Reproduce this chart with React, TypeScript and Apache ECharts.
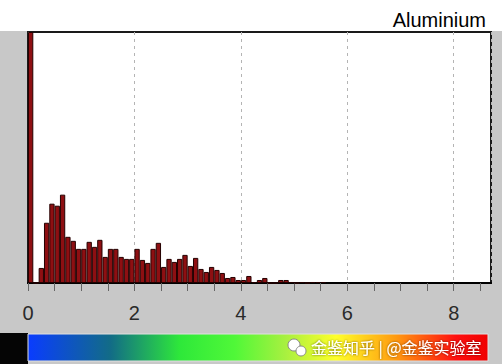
import React, { useEffect, useRef } from 'react';
import * as echarts from 'echarts';

const TITLE = 'Aluminium';
const BIN_WIDTH = 0.1;
// histogram counts per 0.1-wide bin starting at 0
const counts = [
  250, 0, 15, 60, 79, 77, 88, 46, 42, 34,
  34, 41, 36, 43, 26, 34, 34, 26, 24, 24,
  34, 23, 20, 34, 40, 16, 24, 21, 24, 28,
  17, 25, 14, 11, 16, 13, 10, 5, 6, 3,
  3, 7, 1, 3, 5, 0, 0, 3, 3, 1,
  0, 1, 0, 1, 1, 1,
];
const xTickLabels = ['0', '2', '4', '6', '8'];
const X_MAX = 8.7;
const Y_MAX = 250;
const WATERMARK = '金鉴知乎 | @金鉴实验室';

export default function App() {
  const ref = useRef<HTMLDivElement>(null);
  useEffect(() => {
    const chart = echarts.init(ref.current!, undefined, { renderer: 'svg' });
    const data = counts.map((c, i) => [(i + 0.5) * BIN_WIDTH, c]);
    chart.setOption({
      animation: false,
      backgroundColor: '#c8c8c8',
      title: {
        text: TITLE,
        right: 11,
        top: 5,
        textStyle: { fontSize: 20, fontWeight: 'normal', color: '#000', fontFamily: 'Liberation Sans, Arial, sans-serif' },
      },
      grid: {
        left: 28, right: 11, top: 32, bottom: 81,
        show: true, backgroundColor: '#ffffff', borderColor: '#1a1a1a', borderWidth: 2,
      },
      xAxis: [
        {
          type: 'value', min: 0, max: X_MAX, interval: 0.5,
          axisLine: { show: true, lineStyle: { color: '#000', width: 2 } },
          axisTick: { show: true, length: 8, lineStyle: { color: '#666', width: 1 } },
          axisLabel: {
            formatter: (v: number) => (xTickLabels.includes(String(v)) ? String(v) : ''),
            showMaxLabel: false,
            fontSize: 20, color: '#2a2a2a', margin: 20,
            fontFamily: 'Liberation Sans, Arial, sans-serif',
          },
          splitLine: { show: false },
        },
        {
          type: 'value', min: 0, max: X_MAX, interval: 2, position: 'bottom',
          axisLine: { show: false }, axisTick: { show: false }, axisLabel: { show: false },
          splitLine: { show: true, lineStyle: { color: '#b4b4b4', width: 1, type: [3, 4] } },
        },
      ],
      yAxis: {
        type: 'value', min: 0, max: Y_MAX,
        axisLine: { show: false }, axisTick: { show: false }, axisLabel: { show: false },
        splitLine: { show: false },
      },
      series: [
        {
          type: 'bar',
          xAxisIndex: 0,
          data,
          barWidth: 5.3,
          clip: true,
          itemStyle: { color: '#8e0f12', borderColor: '#240000', borderWidth: 1 },
        },
      ],
      graphic: [
        { type: 'rect', shape: { x: 0, y: 0, width: 502, height: 31 }, style: { fill: '#ffffff' }, z: -1 },
        { type: 'rect', shape: { x: 0, y: 333, width: 28, height: 31 }, style: { fill: '#050505' } },
        {
          type: 'rect', shape: { x: 28, y: 334, width: 460, height: 27 },
          style: {
            fill: {
              type: 'linear', x: 0, y: 0, x2: 1, y2: 0,
              colorStops: [
                { offset: 0, color: '#0a3cff' },
                { offset: 0.18, color: '#126c86' },
                { offset: 0.33, color: '#2ee83a' },
                { offset: 0.45, color: '#50f838' },
                { offset: 0.56, color: '#a8f040' },
                { offset: 0.67, color: '#ffff28' },
                { offset: 0.8, color: '#ff9a10' },
                { offset: 0.93, color: '#ff1010' },
                { offset: 1, color: '#f00000' },
              ],
            },
            stroke: '#e0e0e0', lineWidth: 1,
          },
        },
        { type: 'circle', shape: { cx: 294, cy: 345, r: 6 }, style: { fill: '#ffffff', stroke: '#888', lineWidth: 1 } },
        { type: 'circle', shape: { cx: 301, cy: 351, r: 5 }, style: { fill: '#ffffff', stroke: '#888', lineWidth: 1 } },
        {
          type: 'text', x: 311, y: 347,
          style: {
            text: WATERMARK, fill: '#ffffff', fontSize: 16,
            fontFamily: 'Noto Sans CJK SC, sans-serif',
            verticalAlign: 'middle', align: 'left',
            textShadowColor: 'rgba(0,0,0,0.6)', textShadowBlur: 2,
          },
        },
      ],
    });
    return () => chart.dispose();
  }, []);
  return <div ref={ref} style={{ position: 'fixed', left: 0, top: 0, width: 502, height: 364 }} />;
}
